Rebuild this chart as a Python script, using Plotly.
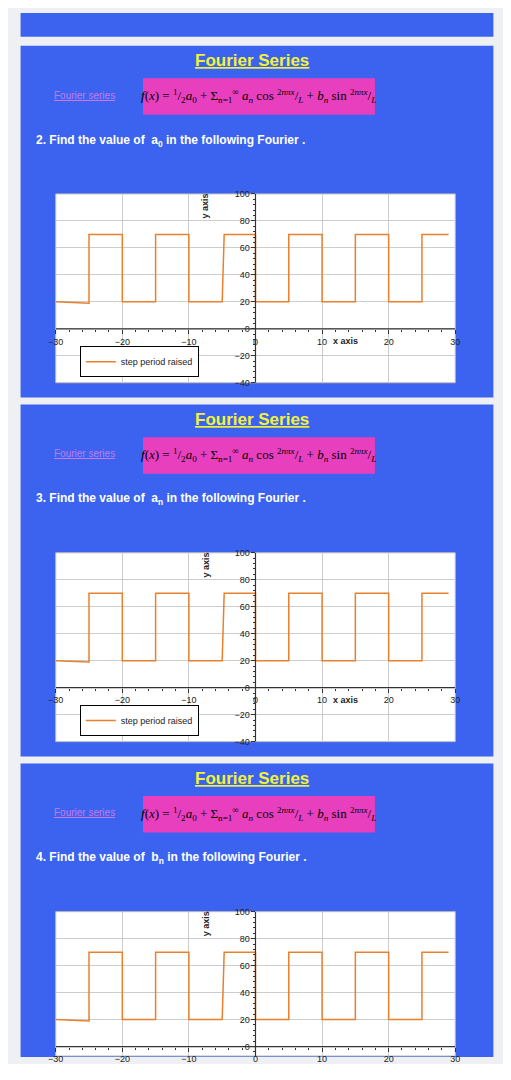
import plotly.graph_objects as go

# chart data
step_x = [-30, -25, -25, -20, -20, -15, -15, -10, -10, -5, -4.7, 0, 0, 5, 5, 10, 10, 15, 15, 20, 20, 25, 25, 29]
step_y = [20, 19, 70, 70, 20, 20, 70, 70, 20, 20, 70, 70, 20, 20, 70, 70, 20, 20, 70, 70, 20, 20, 70, 70]
x_ticks = [-30, -20, -10, 0, 10, 20, 30]
y_ticks = [-40, -20, 0, 20, 40, 60, 80, 100]
questions = ["2. Find the value of  a<sub>0</sub> in the following Fourier .",
             "3. Find the value of  a<sub>n</sub> in the following Fourier .",
             "4. Find the value of  b<sub>n</sub> in the following Fourier ."]
series_name = "step period raised"

# page body has an 8px margin, so the figure is a bit smaller than the window
W, H = 495, 1056
BLUE = "#3b63f0"
ORANGE = "#e8802e"

def px(x):
    return (256 + (x - 256) / 0.97 - 8) / W

def py(y):
    return max(0.0, 1 - (y - 8) / H)

formula = ("<i>f</i>(<i>x</i>) = <sup>1</sup>/<sub>2</sub><i>a</i><sub>0</sub> + "
           "Σ<sub>n=1</sub><sup>∞</sup> <i>a<sub>n</sub></i> cos <sup>2<i>nπx</i></sup>/<sub><i>L</i></sub>"
           " + <i>b<sub>n</sub></i> sin <sup>2<i>nπx</i></sup>/<sub><i>L</i></sub>")

fig = go.Figure()
shapes = [dict(type="rect", xref="paper", yref="paper", x0=px(20), x1=px(491),
               y0=py(32), y1=1, fillcolor=BLUE, line_width=0, layer="below")]
annotations = []
panel_tops = [41, 404, 767]
panel_bottoms = [397, 760, 1080]

for i, q in enumerate(questions):
    off = 363 * i
    n = "" if i == 0 else str(i + 1)
    shapes.append(dict(type="rect", xref="paper", yref="paper", x0=px(20), x1=px(491),
                       y0=py(panel_bottoms[i]), y1=py(panel_tops[i]),
                       fillcolor=BLUE, line_width=0, layer="below"))
    shapes.append(dict(type="rect", xref="paper", yref="paper", x0=px(142), x1=px(373),
                       y0=py(111 + off), y1=py(74 + off),
                       fillcolor="#e83fbe", line_width=0, layer="below"))
    annotations += [
        dict(text="<b><u>Fourier Series</u></b>", x=px(251), y=py(56 + off),
             font=dict(size=17, color="#f2f23a", family="Liberation Sans")),
        dict(text="<u>Fourier series</u>", x=px(84), y=py(91 + off),
             font=dict(size=10, color="#c77ae6", family="Liberation Sans")),
        dict(text=formula, x=px(257), y=py(92 + off),
             font=dict(size=13, color="black", family="Liberation Serif")),
        dict(text="<b>" + q + "</b>", x=px(33), y=py(137 + off), xanchor="left",
             font=dict(size=12, color="white", family="Liberation Sans")),
    ]
    for a in annotations[-4:]:
        a.update(xref="paper", yref="paper", showarrow=False, yanchor="middle")
        a.setdefault("xanchor", "center")

    # last panel runs off the bottom of the page: show only what fits
    bottom_px = min(382 + off, 1063)
    y_lo = 100 - (bottom_px - (191 + off)) * 140 / 191
    d0, d1 = py(bottom_px), py(191 + off)
    xa, ya = "x" + n, "y" + n
    fig.add_trace(go.Scatter(x=step_x, y=step_y, mode="lines", name=series_name,
                             line=dict(color=ORANGE, width=1.5), showlegend=(i < 2),
                             xaxis=xa, yaxis=ya, legend="legend" + n))
    common = dict(showgrid=True, gridcolor="#cccccc", showline=False,
                  zeroline=False, ticks="outside", ticklen=4, tickcolor="#333",
                  tickfont=dict(size=9, color="#222", family="Liberation Sans"),
                  minor=dict(ticks="outside", ticklen=2, tickcolor="#333", showgrid=False))
    fig.update_layout(**{
        "xaxis" + n: dict(domain=[px(55), px(453)], range=[-30, 30], tickvals=x_ticks,
                          anchor="free", position=d0 + (d1 - d0) * (0 - y_lo) / (100 - y_lo),
                          minor_dtick=2, **common),
        "yaxis" + n: dict(domain=[d0, d1], range=[y_lo, 100], tickvals=y_ticks,
                          anchor="free", position=px(254), minor_dtick=4, **common),
        "legend" + n: dict(x=px(79), y=py(345 + off), xanchor="left", yanchor="top",
                           bgcolor="white", bordercolor="black", borderwidth=1,
                           font=dict(size=9, color="#222", family="Liberation Sans")),
    })
    shapes += [
        dict(type="rect", xref=xa + " domain", yref=ya + " domain", x0=0, x1=1, y0=0, y1=1,
             line=dict(color="#bbbbbb", width=1), fillcolor="white", layer="below"),
        dict(type="line", xref=xa, yref=ya, x0=-30, x1=30, y0=0, y1=0,
             line=dict(color="#333", width=1.2)),
        dict(type="line", xref=xa, yref=ya, x0=0, x1=0, y0=y_lo, y1=100,
             line=dict(color="#333", width=1.2)),
    ]
    annotations += [
        dict(text="<b>y axis</b>", x=-7.5, y=91, xref=xa, yref=ya, textangle=-90, showarrow=False,
             font=dict(size=9, color="#222", family="Liberation Sans")),
        dict(text="<b>x axis</b>", x=13.5, y=-9, xref=xa, yref=ya, showarrow=False,
             font=dict(size=9, color="#222", family="Liberation Sans")),
    ]

fig.update_layout(width=W, height=H, margin=dict(l=0, r=0, t=0, b=0), showlegend=True,
                  paper_bgcolor="#eef0f3", plot_bgcolor="rgba(0,0,0,0)",
                  shapes=shapes, annotations=annotations)
fig.write_html("out.html")
